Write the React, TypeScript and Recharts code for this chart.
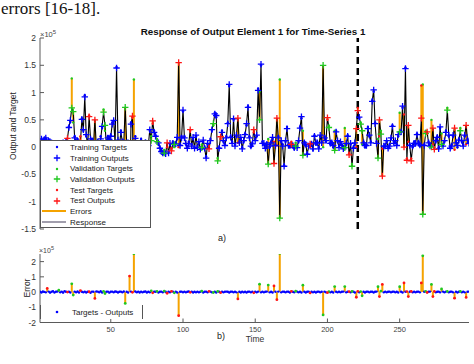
import React from 'react';
import { ComposedChart, Line, Scatter, XAxis, YAxis, ReferenceLine, Legend } from 'recharts';

// ---- data (values in units of 1e5) ----
const targets: number[] = [
  0.08, 0.12, 0.05, 0.15, 0.15, 0.02, 0.14, 0.06, 0.1, 0.03,
  0.0, 0.05, -0.03, 0.08, 0.02, -0.05, 0.04, 0.1, 0.12, 0.16,
  0.38, 0.46, 1.26, 0.45, 0.2, 0.08, 0.15, 0.05, 0.2, 0.53,
  0.3, 0.95, 0.2, 0.05, 0.58, 0.1, 0.15, 0.03, 0.08, 0.05,
  0.12, 0.02, 0.2, 0.35, 0.69, 0.3, 0.05, 0.2, 0.1, 0.22,
  0.45, 0.47, 0.1, 1.47, 0.1, 0.05, 0.3, 0.08, 0.12, -0.02,
  0.1, 0.05, 0.05, 0.45, 0.55, 1.24, 0.2, 0.02, 0.1, 0.0,
  0.15, 0.05, 0.0, 0.12, -0.02, 0.05, 0.3, 0.2, 0.43, 0.3,
  0.22, 0.15, 0.05, 0.0, -0.05, -0.13, -0.05, -0.1, 0.0, -0.08,
  0.05, -0.02, 0.1, 0.0, 0.08, 0.15, 0.0, 0.05, 0.2, 0.66,
  0.2, 0.05, 0.0, 0.1, 0.3, 0.05, 0.15, 0.0, 0.2, 0.02,
  0.08, -0.02, 0.05, 0.1, 0.0, -0.17, 0.05, 0.02, 0.15, 0.3,
  0.4, 0.63, 0.55, -0.2, 0.0, 0.15, 0.3, 0.1, 0.05, 0.2,
  0.45, 1.12, 0.2, 0.1, 0.5, 0.05, 0.2, 0.08, 0.1, 0.15,
  0.0, 0.1, 0.25, 0.4, 0.75, 0.2, 0.0, 0.08, 0.27, 0.15,
  0.2, 1.07, 1.02, 1.5, 0.1, 0.05, 0.0, 0.08, 0.15, 0.0,
  0.1, 0.15, 0.1, 0.05, 0.03, 0.2, 1.24, 0.1, 0.05, -0.33,
  0.1, 0.37, 0.05, 0.0, 0.1, 0.05, -0.03, 0.08, 0.02, 0.1,
  0.37, 0.53, 0.3, 0.1, 0.02, -0.11, 0.05, 0.0, 0.08, -0.05,
  0.22, 0.05, 0.1, 0.0, 0.2, 0.1, 0.0, 0.2, 0.1, 0.5,
  0.39, 0.05, 0.1, 0.0, 0.3, 0.3, 0.1, 0.02, 0.08, 0.05,
  0.0, 0.35, 0.05, 0.22, -0.11, 0.05, -0.31, 0.0, 0.05, 0.0,
  0.72, 0.53, 0.45, 0.05, 0.1, 0.0, 0.05, 0.37, 0.2, 0.1,
  0.86, 1.02, 0.45, 0.1, 0.15, 0.2, 0.3, -0.03, 0.0, 0.05,
  0.1, 0.0, 0.05, 0.15, 0.4, 0.1, 0.1, 0.05, 0.2, 0.63,
  0.3, 0.72, 0.6, 1.46, -0.21, 0.1, 0.05, -0.21, 0.0, 0.1,
  0.05, 0.25, 0.1, 0.02, 1.13, 1.15, 0.05, 0.3, 0.25, 0.1,
  0.05, 0.5, 0.05, 0.0, 0.1, 0.2, 0.0, 0.35, 0.25, 0.05,
  0.1, 0.3, 0.72, 0.2, 0.0, 0.05, 0.2, -0.05, 0.1, 0.0,
  0.15, 0.35, 0.1, 0.05, 0.2, 0.05, 0.15, 0.1,
];

// errors = targets - outputs
const errors: number[] = [
  0.02, -0.03, 0.04, 0.01, -0.02, 0.24, 0.03, -0.04, 0.02, 0.05,
  -0.03, 0.02, 0.04, 0.12, -0.02, 0.03, -0.04, 0.05, 0.02, 0.0,
  0.02, -0.03, 0.54, -0.2, 0.03, -0.02, 0.04, -0.03, 0.1, 0.02,
  -0.02, 0.03, -0.03, 0.02, 0.02, -0.05, 0.03, 0.02, -0.42, 0.04,
  0.03, -0.02, 0.05, -0.03, 0.05, -0.1, 0.02, 0.03, -0.04, 0.02,
  0.03, -0.02, 0.04, 0.02, -0.03, 0.02, 0.03, -0.02, 0.04, -0.75,
  0.02, -0.03, 1.05, 0.03, -0.02, 2.52, 0.04, -0.02, 0.03, -0.03,
  0.03, -0.02, 0.02, 0.04, -0.03, 0.02, -0.02, 0.08, -0.05, 0.03,
  0.02, 0.05, -0.03, 0.02, 0.03, -0.02, 0.06, 0.02, -0.08, 0.03,
  -0.02, 0.05, 0.03, -0.05, 0.02, -0.03, -1.55, 0.02, 0.03, -0.02,
  0.03, -0.02, 0.02, 0.04, -0.02, 0.03, -0.03, 0.02, -0.02, 0.03,
  -0.02, 0.02, 0.06, -0.03, 0.02, 0.03, -0.02, 0.05, 0.03, -0.02,
  -0.03, 0.02, -0.03, 0.05, 0.02, -0.04, 0.03, -0.02, 0.02, 0.03,
  0.02, -0.03, 0.02, 0.03, -0.02, 0.03, -0.02, -0.45, 0.02, -0.03,
  0.03, -0.02, 0.02, -0.03, 0.02, 0.03, -0.02, 0.02, -0.05, 0.03,
  -0.02, 0.03, 0.52, -0.02, 0.03, -0.02, 0.02, 0.03, 0.46, -0.02,
  0.02, -0.03, 0.4, 0.02, -0.5, 0.03, 2.54, -0.02, 0.03, 0.02,
  -0.02, 0.03, 0.02, -0.03, 0.05, 0.02, -0.02, 0.06, 0.03, -0.02,
  0.02, -0.03, 0.45, 0.02, -0.03, 0.02, 0.03, -0.06, 0.02, -0.02,
  0.02, -0.03, 0.02, 0.03, -0.02, 0.02, -1.5, 0.03, -0.02, -0.04,
  0.03, -0.02, 0.02, -0.03, 0.36, 0.02, -0.02, 0.03, -0.02, 0.02,
  0.03, 0.36, -0.02, 0.02, 0.03, -0.02, 0.04, 0.02, -0.03, -0.34,
  0.05, -0.02, 0.03, -0.25, 0.02, -0.03, 0.02, 0.03, -0.02, 0.02,
  0.02, -0.03, 0.02, 0.03, 0.35, -0.3, 0.06, 0.5, -0.02, 0.03,
  -0.02, 0.02, 0.03, -0.02, 0.02, 0.03, -0.02, 0.02, -0.03, 0.35,
  0.02, -0.03, 0.6, 0.02, 0.03, -0.3, 0.02, 0.04, -0.02, 0.03,
  -0.02, 0.02, 0.03, -0.02, 0.6, 2.38, 0.02, 0.05, -0.03, 0.02,
  0.03, 0.5, -0.3, 0.04, -0.02, 0.02, 0.03, -0.02, 0.2, 0.03,
  -0.02, 0.03, 0.04, -0.02, 0.02, 0.03, -0.02, -0.4, 0.02, -0.03,
  0.02, 0.05, -0.02, 0.03, -0.02, -0.35, 0.02, 0.03,
];

// T = training, V = validation, S = test
const splits: string =
  'TTTTTSTTTT' + 'TTTVTTTTTS' + 'TTVVTTTTST' + 'TTTTSTTTST' + 'TTTTVVTTTT' +
  'TTTTTTTTTV' + 'TTSTSVTTTT' + 'TTTTTTTVST' + 'TVTTTTVTST' + 'TSTVTTSTTT' +
  'TTTTSTTTTT' + 'TTVTTTTSTT' + 'VTTVTSTTTT' + 'TTTTTTTSTT' + 'TTTTTTTTST' +
  'TTVTTTTTVT' + 'TTSTSTVTTT' + 'TTTTSTTVTT' + 'TTVTTTTSTT' + 'TTTTTTVTTS' +
  'VTTTVTTTTT' + 'TVTTSTVTTS' + 'STVVTTTTTT' + 'TTTTVSVSTT' + 'TTTTTTTTTV' +
  'TTSTSSTSTT' + 'TTTTSVTVST' + 'TVSSTTTTVT' + 'TTVTTTTSTT' + 'TVTTTSTT';

const timeTicks = [50, 100, 150, 200, 250];
const topYTicks = [-1.5, -1, -0.5, 0, 0.5, 1, 1.5, 2];
const errYTicks = [-2, -1, 0, 1, 2];
const markerTime = 221;
const title = 'Response of Output Element 1 for Time-Series 1';

const rows = targets.map((target, i) => ({
  t: i + 1,
  target,
  error: errors[i],
  output: +(target - errors[i]).toFixed(3),
  split: splits[i],
}));

const FONT = '"Liberation Sans", Arial, Helvetica, sans-serif';
const AX = '#5a5a5a';
const BLUE = '#0000ff';
const GREEN = '#1fc81f';
const RED = '#ff1515';
const ORANGE = '#f5a300';

const pick = (split: string, key: 'target' | 'output' | 'error') =>
  rows.filter((r) => r.split === split).map((r) => ({ t: r.t, v: r[key] }));

const responseData = rows.map((r) => ({ t: r.t, v: r.output }));

const plusShape = (color: string) => (p: any) => {
  const { cx, cy } = p;
  if (cx == null || cy == null) return <g />;
  return (
    <path
      d={`M${cx - 3.2},${cy}H${cx + 3.2}M${cx},${cy - 3.2}V${cy + 3.2}`}
      stroke={color}
      strokeWidth={1.3}
      fill="none"
    />
  );
};
const dotShape = (color: string, r: number) => (p: any) => {
  const { cx, cy } = p;
  if (cx == null || cy == null) return <g />;
  return <circle cx={cx} cy={cy} r={r} fill={color} />;
};

const legendItems = [
  { label: 'Training Targets', kind: 'dot', color: BLUE },
  { label: 'Training Outputs', kind: 'plus', color: BLUE },
  { label: 'Validation Targets', kind: 'dot', color: GREEN },
  { label: 'Validation Outputs', kind: 'plus', color: GREEN },
  { label: 'Test Targets', kind: 'dot', color: RED },
  { label: 'Test Outputs', kind: 'plus', color: RED },
  { label: 'Errors', kind: 'line', color: ORANGE },
  { label: 'Response', kind: 'line', color: '#6e6a80' },
];

const TopLegend = () => (
  <div
    style={{
      width: 111,
      height: 88,
      boxSizing: 'border-box',
      background: '#fff',
      border: '1px solid #555',
      paddingTop: 1,
      fontFamily: FONT,
      fontSize: 8,
      color: '#222',
    }}
  >
    {legendItems.map((it) => (
      <div key={it.label} style={{ height: 10.7, display: 'flex', alignItems: 'center' }}>
        <svg width={29} height={10} style={{ flex: 'none' }}>
          {it.kind === 'dot' && <circle cx={16} cy={5} r={1.2} fill={it.color} />}
          {it.kind === 'plus' && (
            <path d="M12.8,5H19.2M16,1.8V8.2" stroke={it.color} strokeWidth={1.3} />
          )}
          {it.kind === 'line' && (
            <line x1={1} x2={25} y1={5} y2={5} stroke={it.color} strokeWidth={it.label === 'Errors' ? 2 : 1.3} />
          )}
        </svg>
        <span style={{ whiteSpace: 'nowrap' }}>{it.label}</span>
      </div>
    ))}
  </div>
);

const ErrLegend = () => (
  <div
    style={{
      width: 103,
      height: 14,
      boxSizing: 'border-box',
      background: '#fff',
      borderLeft: '1px solid #555',
      borderRight: '1px solid #555',
      display: 'flex',
      alignItems: 'center',
      fontFamily: FONT,
      fontSize: 8,
      color: '#222',
    }}
  >
    <svg width={31} height={12} style={{ flex: 'none' }}>
      <circle cx={16} cy={6} r={1.3} fill={BLUE} />
    </svg>
    <span style={{ whiteSpace: 'nowrap' }}>Targets - Outputs</span>
  </div>
);

const tickFont = { fontSize: 8.5, fill: '#333', fontFamily: FONT };

export default function App() {
  return (
    <div
      style={{
        position: 'absolute',
        left: 0,
        top: 0,
        width: 474,
        height: 364,
        background: '#fff',
        overflow: 'hidden',
      }}
    >
      {/* upper panel */}
      <div style={{ position: 'absolute', left: 0, top: 0 }}>
        <ComposedChart width={474} height={240} margin={{ top: 38, right: 5, bottom: 11, left: 0 }}>
          <XAxis
            xAxisId={0}
            dataKey="t"
            type="number"
            domain={[1, 298]}
            ticks={timeTicks}
            allowDataOverflow
            tick={false}
            tickSize={-4}
            height={0}
            stroke={AX}
          />
          <XAxis
            xAxisId="top"
            orientation="top"
            dataKey="t"
            type="number"
            domain={[1, 298]}
            ticks={timeTicks}
            allowDataOverflow
            tick={false}
            tickSize={-4}
            height={0}
            axisLine={{ stroke: '#e2e2e2' }}
            tickLine={{ stroke: AX }}
          />
          <YAxis
            yAxisId={0}
            type="number"
            domain={[-1.5, 2]}
            ticks={topYTicks}
            allowDataOverflow
            width={40}
            tickSize={-4}
            tickMargin={8}
            tick={tickFont}
            stroke={AX}
          />
          <YAxis
            yAxisId="right"
            orientation="right"
            type="number"
            domain={[-1.5, 2]}
            ticks={topYTicks}
            allowDataOverflow
            width={0}
            tick={false}
            tickSize={-4}
            stroke={AX}
          />
          {rows.map((r) => (
            <ReferenceLine
              key={'e' + r.t}
              segment={[
                { x: r.t, y: r.target },
                { x: r.t, y: r.output },
              ]}
              stroke={ORANGE}
              strokeWidth={2}
              ifOverflow="hidden"
              zIndex={350}
            />
          ))}
          <Line
            data={responseData}
            dataKey="v"
            type="linear"
            stroke="#000"
            strokeWidth={1.1}
            dot={false}
            activeDot={false}
            isAnimationActive={false}
            zIndex={400}
          />
          <ReferenceLine x={markerTime} stroke="#000" strokeWidth={2.5} strokeDasharray="7 4" zIndex={450} />
          <Scatter data={pick('T', 'target')} dataKey="v" shape={dotShape(BLUE, 1.2)} isAnimationActive={false} zIndex={600} />
          <Scatter data={pick('V', 'target')} dataKey="v" shape={dotShape(GREEN, 1.2)} isAnimationActive={false} zIndex={600} />
          <Scatter data={pick('S', 'target')} dataKey="v" shape={dotShape(RED, 1.2)} isAnimationActive={false} zIndex={600} />
          <Scatter data={pick('T', 'output')} dataKey="v" shape={plusShape(BLUE)} isAnimationActive={false} zIndex={600} />
          <Scatter data={pick('V', 'output')} dataKey="v" shape={plusShape(GREEN)} isAnimationActive={false} zIndex={600} />
          <Scatter data={pick('S', 'output')} dataKey="v" shape={plusShape(RED)} isAnimationActive={false} zIndex={600} />
          <Legend
            layout="vertical"
            align="center"
            verticalAlign="middle"
            content={() => <TopLegend />}
            wrapperStyle={{ left: 40, top: 140, width: 111, height: 88 }}
          />
        </ComposedChart>
      </div>

      {/* lower panel */}
      <div style={{ position: 'absolute', left: 0, top: 244 }}>
        <ComposedChart width={474} height={120} margin={{ top: 10, right: 5, bottom: 21.5, left: 0 }}>
          <XAxis
            xAxisId={0}
            dataKey="t"
            type="number"
            domain={[1, 298]}
            ticks={timeTicks}
            allowDataOverflow
            tickSize={-4}
            tickMargin={8}
            height={20}
            tick={{ fontSize: 7.5, fill: '#444', fontFamily: FONT }}
            stroke={AX}
          />
          <XAxis
            xAxisId="top"
            orientation="top"
            dataKey="t"
            type="number"
            domain={[1, 298]}
            ticks={timeTicks}
            allowDataOverflow
            tick={false}
            tickSize={-4}
            height={0}
            stroke={AX}
          />
          <YAxis
            yAxisId={0}
            type="number"
            domain={[-2, 2.5]}
            ticks={errYTicks}
            allowDataOverflow
            width={40}
            tickSize={-4}
            tickMargin={8}
            tick={tickFont}
            stroke={AX}
          />
          <YAxis
            yAxisId="right"
            orientation="right"
            type="number"
            domain={[-2, 2.5]}
            ticks={errYTicks}
            allowDataOverflow
            width={0}
            tick={false}
            tickSize={-4}
            stroke={AX}
          />
          {rows.map((r) => (
            <ReferenceLine
              key={'s' + r.t}
              segment={[
                { x: r.t, y: 0 },
                { x: r.t, y: r.error },
              ]}
              stroke={ORANGE}
              strokeWidth={2}
              ifOverflow="hidden"
              zIndex={350}
            />
          ))}
          <Scatter data={pick('T', 'error')} dataKey="v" shape={dotShape(BLUE, 1.2)} isAnimationActive={false} zIndex={600} />
          <Scatter data={pick('V', 'error')} dataKey="v" shape={dotShape(GREEN, 1.4)} isAnimationActive={false} zIndex={600} />
          <Scatter data={pick('S', 'error')} dataKey="v" shape={dotShape(RED, 1.4)} isAnimationActive={false} zIndex={600} />
          <Legend
            layout="vertical"
            align="center"
            verticalAlign="middle"
            content={() => <ErrLegend />}
            wrapperStyle={{ left: 40, top: 61, width: 103, height: 14 }}
          />
        </ComposedChart>
      </div>

      {/* texts */}
      <svg
        width={474}
        height={364}
        style={{ position: 'absolute', left: 0, top: 0, pointerEvents: 'none' }}
      >
        <text x={1} y={14} fontFamily='"Liberation Serif", "Times New Roman", serif' fontSize={17} fill="#111">
          errors [16-18].
        </text>
        <text x={253} y={35} textAnchor="middle" fontFamily={FONT} fontWeight="bold" fontSize={9.8} fill="#111">
          {title}
        </text>
        <text x={40} y={37} fontFamily={FONT} fontSize={7.5} fill="#444">
          ×10<tspan dy={-3} fontSize={6}>5</tspan>
        </text>
        <text
          transform="translate(16,126) rotate(-90)"
          textAnchor="middle"
          fontFamily={FONT}
          fontSize={8.5}
          fill="#222"
        >
          Output and Target
        </text>
        <text x={222} y={241} textAnchor="middle" fontFamily={FONT} fontSize={9} fill="#222">
          a)
        </text>
        <text x={39} y={253} fontFamily={FONT} fontSize={7} fill="#444">
          ×10<tspan dy={-3} fontSize={5.5}>5</tspan>
        </text>
        <text
          transform="translate(29.5,288) rotate(-90)"
          textAnchor="middle"
          fontFamily={FONT}
          fontSize={8.5}
          fill="#222"
        >
          Error
        </text>
        <text x={255} y={342} textAnchor="middle" fontFamily={FONT} fontSize={8.5} fill="#333">
          Time
        </text>
        <text x={221} y={339} textAnchor="middle" fontFamily={FONT} fontSize={9} fill="#222">
          b)
        </text>
      </svg>
    </div>
  );
}
